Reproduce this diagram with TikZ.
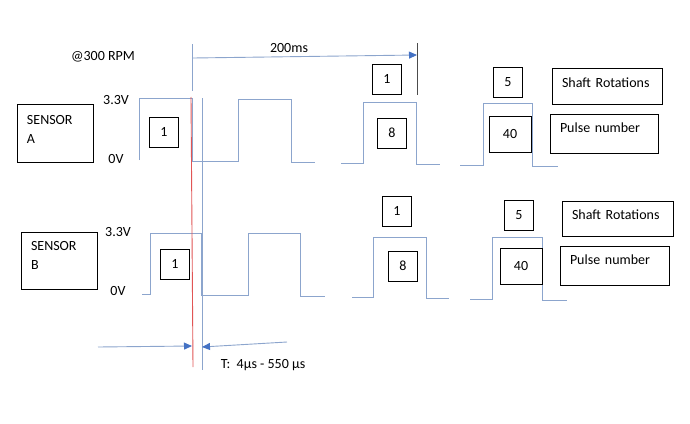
\documentclass[tikz,border=0pt]{standalone}
\usepackage{fontspec}
\setmainfont{Carlito}
\usetikzlibrary{arrows.meta}
\definecolor{wave}{RGB}{140,165,205}
\definecolor{redline}{RGB}{225,85,85}
\definecolor{arrowblue}{RGB}{68,114,196}
\tikzset{
x=1pt, y=-1pt, % one unit is one pixel of the sketch, y runs down
every node/.style={font=\fontsize{14}{19}\selectfont}, % Calibri-like text everywhere
numbox/.style={draw, line width=1pt, inner sep=0pt, minimum width=29pt, minimum height=30pt}, % small counter boxes
sensor/.style={draw, line width=1pt, minimum width=76pt, minimum height=58pt, align=left, text width=56pt, text depth=27pt}, % sensor boxes
info/.style={draw, line width=1pt, align=left, text depth=7pt}, % legend boxes on the right
signal/.style={draw=wave, line width=0.9pt}, % square waves
dim/.style={draw=wave, line width=0.9pt, -{Triangle[length=8pt, width=7pt, color=arrowblue]}}, % dimension arrows
}

\begin{document}
\begin{tikzpicture}
    \useasboundingbox (0,0) rectangle (690,423);

    \node (rpm) at (103,57) {@300 RPM};
    \node (ms) at (289,48) {200ms};

    % sensor A
    \node[sensor] (sa) at (55,133.5) {SENSOR\\A};
    \node (hia) at (116,100) {3.3V};
    \node (loa) at (116,159) {0V};
    \draw[signal] (139,160) -- (139,98) -- (192,98) -- (192,161) -- (238,161) -- (238,99) -- (291,99) -- (291,162) -- (315,162);
    \draw[signal] (341,163) -- (363,163) -- (363,102) -- (416,102) -- (416,164) -- (440,164);
    \draw[signal] (460,165) -- (483,165) -- (483,103) -- (532,103) -- (532,166) -- (558,166);
    \node[numbox] (a1) at (164,132) {1};
    \node[numbox] (ar1) at (387,79) {1};
    \node[numbox] (a8) at (392,133) {8};
    \node[numbox] (ar5) at (508,82) {5};
    \node[numbox, minimum width=42pt, minimum height=36pt] (a40) at (510,134) {40};
    \node[info, minimum width=110pt, minimum height=36pt, text width=90pt] (ashaft) at (607,86) {Shaft Rotations};
    \node[info, minimum width=108pt, minimum height=39pt, text width=88pt, text depth=12pt] (apulse) at (604,133.5) {Pulse number};

    % sensor B
    \node[sensor, minimum height=57pt, text depth=29pt] (sb) at (59,260.5) {SENSOR\\B};
    \node (hib) at (118,232) {3.3V};
    \node (lob) at (118,291) {0V};
    \draw[signal] (142,294) -- (150,294) -- (150,233) -- (201,233) -- (201,295) -- (248,295) -- (248,233) -- (300,233) -- (300,296) -- (325,296);
    \draw[signal] (352,297) -- (373,297) -- (373,237) -- (426,237) -- (426,298) -- (449,298);
    \draw[signal] (470,299) -- (492,299) -- (492,237) -- (542,237) -- (542,300) -- (567,300);
    \node[numbox] (b1) at (175,264) {1};
    \node[numbox] (br1) at (397,211) {1};
    \node[numbox] (b8) at (403,266) {8};
    \node[numbox] (br5) at (519,215) {5};
    \node[numbox, minimum width=42pt, minimum height=36pt] (b40) at (521,266) {40};
    \node[info, minimum width=111pt, minimum height=35pt, text width=91pt] (bshaft) at (617.5,218.5) {Shaft Rotations};
    \node[info, minimum width=109pt, minimum height=39pt, text width=89pt, text depth=12pt] (bpulse) at (614.5,265.5) {Pulse number};

    % 200ms span
    \coordinate (s0) at (193,58);
    \coordinate (s1) at (417,55);
    \draw[wave, line width=0.9pt] (192,44) -- (192,91);
    \draw[black!70, line width=0.9pt] (417,43) -- (417,95);
    \draw[dim] (s0) -- (s1);

    % edge markers and pulse width
    \coordinate (ra) at (191,97);
    \coordinate (rb) at (193,367);
    \coordinate (ba) at (202,98);
    \coordinate (bb) at (202,370);
    \draw[redline, line width=0.9pt] (ra) -- (rb);
    \draw[wave, line width=1pt] (ba) -- (bb);
    \coordinate (l0) at (98,347);
    \coordinate (l1) at (192,346);
    \coordinate (r0) at (287,342);
    \coordinate (r1) at (202,347);
    \draw[dim] (l0) -- (l1);
    \draw[dim] (r0) -- (r1);
    \node (tw) at (263,365) {T:\ \ 4µs - 550 µs};
\end{tikzpicture}
\end{document}
